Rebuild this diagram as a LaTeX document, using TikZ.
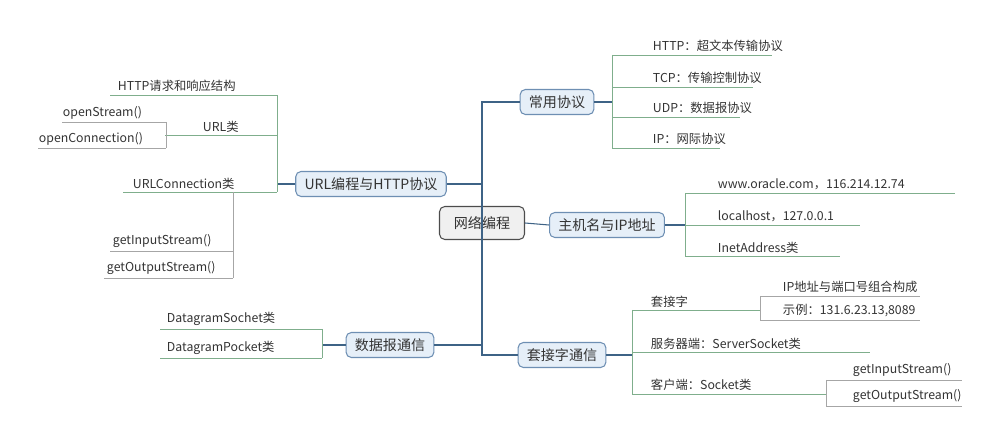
\documentclass[tikz,border=0pt]{standalone}
\usepackage{fontspec}
\setmainfont{Noto Sans CJK SC}
\definecolor{trk}{HTML}{3E6386}
\definecolor{grn}{HTML}{7FAE8C}
\definecolor{bxb}{HTML}{6E8FB3}
\definecolor{bxf}{HTML}{E6EFF8}
\begin{document}
\begin{tikzpicture}[x=0.02cm,y=-0.02cm,
  every node/.style={font=\fontsize{7}{8.5}\selectfont,text=black!80,inner sep=1pt},
  box/.style={draw=bxb,fill=bxf,rounded corners=3pt,line width=0.6pt,minimum height=0.5cm,inner xsep=5pt,font=\fontsize{8}{10}\selectfont},
  trunk/.style={draw=trk,line width=0.6pt},
  gl/.style={draw=grn,line width=0.5pt},
  gy/.style={draw=gray!70,line width=0.5pt},
  lab/.style={anchor=south west,inner sep=1.5pt}]
\useasboundingbox (0,0) rectangle (998,445);
% central
\node[box,draw=black!70,fill=gray!12,minimum width=1.7cm,minimum height=0.66cm] (c) at (482,223) {网络编程};
\node[box] (p) at (557,102) {常用协议};
\node[box] (u) at (371,184) {URL编程与HTTP协议};
\node[box] (h) at (607,225) {主机名与IP地址};
\node[box] (d) at (390,345) {数据报通信};
\node[box] (s) at (562,355) {套接字通信};
\coordinate (t1) at (482,102); \coordinate (t2) at (482,355);
\draw[trunk] (p.west) -- (t1) -- (t2) -- (s.west);
\draw[trunk] (u.east) -- (482,184);
\draw[trunk] (d.east) -- (482,345);
\draw[trunk] (c.east) -- (h.west);
% protocols
\draw[trunk] (p.east) -- (612,102);
\draw[gl] (612,55) -- (612,148);
\draw[gl] (612,55) -- (772,55) (612,87) -- (753,87) (612,117) -- (740,117) (612,148) -- (720,148);
\node[lab] (p1) at (650,55) {HTTP：超文本传输协议};
\node[lab] (p2) at (650,87) {TCP：传输控制协议};
\node[lab] (p3) at (650,117) {UDP：数据报协议};
\node[lab] (p4) at (650,148) {IP：网际协议};
% host
\draw[trunk] (h.east) -- (685,225);
\draw[gl] (685,193) -- (685,256);
\draw[gl] (685,193) -- (955,193) (685,225) -- (860,225) (685,256) -- (840,256);
\node[lab] (h1) at (715,193) {www.oracle.com，116.214.12.74};
\node[lab] (h2) at (715,225) {localhost，127.0.0.1};
\node[lab] (h3) at (715,256) {InetAddress类};
% URL
\draw[trunk] (u.west) -- (277,184);
\draw[gl] (277,95) -- (277,192);
\draw[gl] (110,95) -- (277,95) (165,135) -- (277,135) (123,192) -- (277,192);
\node[lab] (u1) at (115,95) {HTTP请求和响应结构};
\node[lab] (u2) at (200,135) {URL类};
\node[lab] (u3) at (130,192) {URLConnection类};
\draw[gy] (166,122) -- (166,148) (62,122) -- (166,122) (38,148) -- (166,148);
\node[lab] (u21) at (60,122) {openStream()};
\node[lab] (u22) at (36,148) {openConnection()};
\draw[gy] (233,192) -- (233,278) (110,251) -- (233,251) (104,278) -- (233,278);
\node[lab] (u31) at (110,251) {getInputStream()};
\node[lab] (u32) at (104,278) {getOutputStream()};
% datagram
\draw[trunk] (d.west) -- (322,345);
\draw[gl] (322,329) -- (322,358) (160,329) -- (322,329) (160,358) -- (322,358);
\node[lab] (d1) at (164,329) {DatagramSochet类};
\node[lab] (d2) at (164,358) {DatagramPocket类};
% socket
\draw[trunk] (s.east) -- (632,355);
\draw[gl] (632,310) -- (632,394);
\draw[gl] (632,310) -- (760,310) (632,352) -- (870,352) (632,394) -- (826,394);
\node[lab] (s1) at (648,310) {套接字};
\node[lab] (s2) at (648,352) {服务器端：ServerSocket类};
\node[lab] (s3) at (648,394) {客户端：Socket类};
\draw[gy] (760,296) -- (760,320) (760,296) -- (920,296) (760,320) -- (920,320);
\node[lab] (s11) at (780,296) {IP地址与端口号组合构成};
\node[lab] (s12) at (780,320) {示例：131.6.23.13,8089};
\draw[gy] (826,380) -- (826,406) (826,380) -- (962,380) (826,406) -- (962,406);
\node[lab] (s31) at (850,380) {getInputStream()};
\node[lab] (s32) at (850,406) {getOutputStream()};
\end{tikzpicture}
\end{document}
